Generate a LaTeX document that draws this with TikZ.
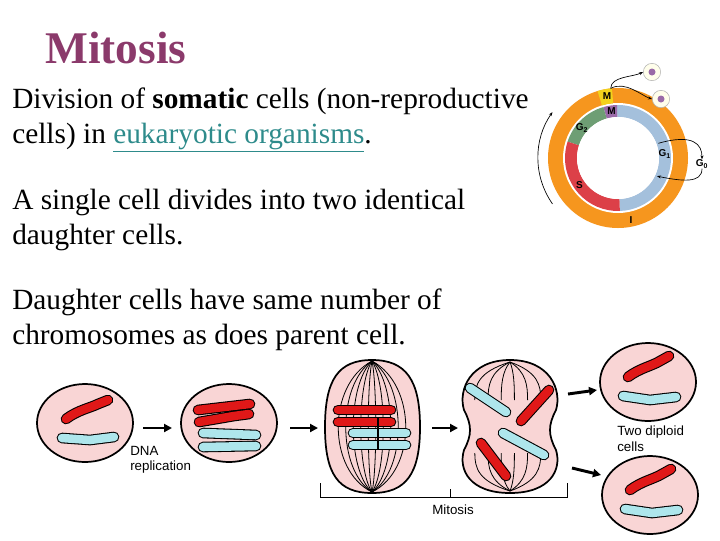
\documentclass[tikz,border=0pt]{standalone}
\usepackage{fontspec}
\setmainfont{Liberation Serif}
\setsansfont{Liberation Sans}
\usetikzlibrary{arrows.meta,calc,shapes.geometric}
\definecolor{titlec}{HTML}{8B3A6B}
\definecolor{linkc}{HTML}{2E8B8B}
\definecolor{cellc}{HTML}{F9D5D5}
\definecolor{redc}{HTML}{E01818}
\definecolor{bluec}{HTML}{AEE6EC}
\definecolor{orng}{HTML}{F6961E}
\definecolor{ylw}{HTML}{F2D21C}
\definecolor{purp}{HTML}{9A6AA8}
\definecolor{grn}{HTML}{6E9E74}
\definecolor{scol}{HTML}{DC4048}
\definecolor{g1c}{HTML}{A4C0DC}
\newcommand\chromo[2]{\draw[line width=8pt,line cap=round,line join=round,black] #2; \draw[line width=6.4pt,line cap=round,line join=round,#1] #2;}
\begin{document}
\begin{tikzpicture}[x=0.75pt,y=-0.75pt,
  body/.style={anchor=base west,font=\fontsize{22}{24}\selectfont,inner sep=0},
  cell/.style={draw=black,line width=1.3pt,fill=cellc},
  ecell/.style={cell,ellipse,minimum width=72pt,minimum height=58.5pt,inner sep=0},
  arr/.style={-{Triangle[length=6pt,width=6pt]},line width=2.2pt},
  lab/.style={font=\sffamily\fontsize{10}{11.5}\selectfont,align=left,anchor=north west,inner sep=0},
  cyc/.style={font=\sffamily\bfseries\fontsize{7.5}{8}\selectfont,inner sep=0},
  thin/.style={-{Stealth[length=3pt]},line width=0.5pt},
  fib/.style={line width=0.6pt}]
\useasboundingbox (0,0) rectangle (720,540);
% title and text
\node[anchor=base west,inner sep=0,text=titlec,font=\bfseries\fontsize{34}{36}\selectfont] (title) at (45,63) {Mitosis};
\node[body] (l1) at (12,108) {Division of \textbf{somatic} cells (non-reproductive};
\node[body] (l2) at (12,143) {cells) in \textcolor{linkc}{\underline{eukaryotic organisms}}.};
\node[body] (l3) at (12,209) {A single cell divides into two identical};
\node[body] (l4) at (12,244) {daughter cells.};
\node[body] (l5) at (12,309) {Daughter cells have same number of};
\node[body] (l6) at (12,344) {chromosomes as does parent cell.};
% cell cycle
\begin{scope}[shift={(618,158)},yscale=-1]
\coordinate (cc) at (0,0);
\fill[orng] (cc) circle (70);
\fill[white] (cc) circle (55);
\fill[ylw] (95:70) arc (95:107:70) -- (107:55) arc (107:95:55) -- cycle;
\fill[g1c] (-88:53) arc (-88:91:53) -- (91:41) arc (91:-88:41) -- cycle;
\fill[purp] (91:53) arc (91:106:53) -- (106:41) arc (106:91:41) -- cycle;
\fill[grn] (106:53) arc (106:162:53) -- (162:41) arc (162:106:41) -- cycle;
\fill[scol] (162:53) arc (162:272:53) -- (272:41) arc (272:162:41) -- cycle;
\fill[white] (cc) circle (41);
\node[cyc] (mo) at (100:63) {M};
\node[cyc] (mi) at (98:47) {M};
\node[cyc] (g2) at (140:47) {G\textsubscript{2}};
\node[cyc] (g1) at (5:47) {G\textsubscript{1}};
\node[cyc] (s) at (215:47) {S};
\node[cyc] (ii) at (-78:63) {I};
\coordinate (mt) at (96:70);
\coordinate (ga) at (20:43);
\coordinate (gb) at (-25:43);
\draw[thin] (215:80) arc (215:145:80);
\end{scope}
\node[cyc] (g0) at (702,164) {G\textsubscript{0}};
\node[circle,draw=gray!60,fill=yellow!8,minimum size=13pt,inner sep=0] (d1) at (652,72) {};
\fill[purp] (d1) circle (3.5);
\node[circle,draw=gray!60,fill=yellow!8,minimum size=13pt,inner sep=0] (d2) at (661,99) {};
\fill[purp] (d2) circle (3.5);
\draw[thin] (mt) .. controls +(0,-12) and +(-10,5) .. (d1.west);
\draw[thin] (mt) .. controls +(15,-8) and +(-10,-3) .. (d2.west);
\draw[thin] (ga) .. controls +(35,-10) and +(0,-15) .. (g0.north);
\draw[thin] (g0.south) .. controls +(0,15) and +(25,5) .. (gb);
% mitosis figure
\node[ecell] (c1) at (85,423) {};
\chromo{redc}{(66,419) .. controls (78,410) and (90,408) .. (98,404) -- (108,400)}
\chromo{bluec}{(62,438) -- (90,440) -- (114,437)}
\node[ecell] (c2) at (229,423) {};
\chromo{redc}{(198,410) -- (250,404)}
\chromo{redc}{(199,422) -- (234,416) -- (249,414)}
\chromo{bluec}{(203,433) -- (256,435)}
\chromo{bluec}{(203,447) -- (256,446)}
\draw[cell] (372,360) .. controls (338,360) and (325,380) .. (325,427) .. controls (325,474) and (338,493) .. (372,493) .. controls (406,493) and (420,474) .. (420,427) .. controls (420,380) and (406,360) .. (372,360) -- cycle;
\coordinate (p1) at (372,361);
\coordinate (p2) at (372,492);
\foreach \k in {-36,-28,-20,-12,-4,4,12,20,28,36}{\draw[fib] (p1) .. controls (372+1.25*\k,385) and (372+1.25*\k,470) .. (p2);}
\chromo{redc}{(338,410) -- (391,410)}
\chromo{redc}{(338,422) -- (391,422)}
\chromo{bluec}{(353,433) -- (406,433)}
\chromo{bluec}{(353,445) -- (406,445)}
\draw[line width=0.8pt] (378,418) -- (378,450);
\draw[cell] (510,360) .. controls (470,360) and (458,390) .. (464,410) .. controls (472,425) and (472,435) .. (464,450) .. controls (458,470) and (470,493) .. (510,493) .. controls (550,493) and (562,470) .. (556,450) .. controls (548,435) and (548,425) .. (556,410) .. controls (562,390) and (550,360) .. (510,360) -- cycle;
\foreach \k in {-32,-20,-8,4,16,28}{\draw[fib] (510,362) .. controls (510+\k,372) and (510+1.1*\k,385) .. (510+1.1*\k,400);
\draw[fib] (510,491) .. controls (510+\k,481) and (510+1.1*\k,468) .. (510+1.1*\k,453);}
\chromo{bluec}{(470,388) -- (506,412)}
\chromo{redc}{(549,390) -- (521,421)}
\chromo{bluec}{(503,433) -- (544,455)}
\chromo{redc}{(481,443) -- (506,476)}
\draw[arr] (143,428) -- (172,428);
\draw[arr] (290,428) -- (318,428);
\draw[arr] (432,428) -- (458,428);
\node[ecell] (c5) at (648,382) {};
\chromo{redc}{(628,377) .. controls (640,368) and (652,366) .. (660,361) -- (669,356)}
\chromo{bluec}{(623,396) -- (650,400) -- (676,397)}
\node[ecell] (c6) at (650,495) {};
\chromo{redc}{(630,490) .. controls (642,481) and (654,479) .. (662,474) -- (671,469)}
\chromo{bluec}{(625,509) -- (652,513) -- (678,510)}
\coordinate (a5) at (597,390);
\coordinate (a6) at (601,475);
\draw[arr] (568,394) -- (a5);
\draw[arr] (572,468) -- (a6);
\node[lab] (dna) at (130,446) {DNA\\replication};
\node[lab] (two) at (617,426) {Two diploid\\cells};
\draw[line width=0.6pt] (320,483) -- (320,497) -- (567,497) -- (567,483);
\draw[line width=0.6pt] (450,489) -- (450,497);
\node[lab,anchor=north] (mit) at (453,505) {Mitosis};
\end{tikzpicture}
\end{document}
